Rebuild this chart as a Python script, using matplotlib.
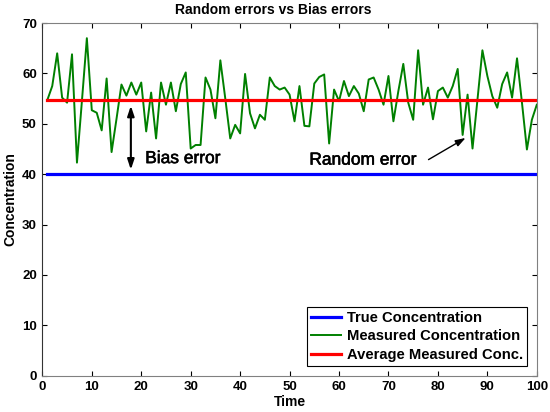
import matplotlib
matplotlib.use("Agg")
import matplotlib.pyplot as plt
import matplotlib.patheffects as pe
import numpy as np

plt.rcParams['font.family'] = ['Liberation Sans', 'DejaVu Sans']

time = list(range(1, 101))
measured = [54.7, 57.5, 64.0, 55.2, 54.2, 63.8, 42.3, 54.5, 67.0, 52.7,
            52.2, 48.7, 59.0, 44.4, 51.0, 57.8, 55.6, 58.2, 55.8, 58.2,
            48.5, 56.2, 47.1, 58.2, 53.8, 58.2, 52.5, 57.9, 60.2, 45.1,
            45.8, 45.8, 59.2, 56.8, 51.1, 62.6, 55.0, 47.1, 49.8, 48.1,
            59.9, 52.1, 49.1, 51.8, 50.8, 59.2, 57.5, 56.8, 57.2, 55.8,
            50.5, 57.5, 49.6, 49.5, 58.0, 59.3, 59.8, 46.1, 56.8, 54.5,
            58.5, 55.5, 57.5, 56.0, 52.5, 58.8, 59.2, 56.8, 53.8, 59.5,
            50.5, 56.5, 61.9, 54.2, 50.8, 64.6, 53.8, 57.2, 50.9, 56.5,
            57.2, 55.2, 57.5, 60.9, 47.8, 55.8, 45.1, 54.8, 64.6, 59.5,
            55.5, 53.2, 57.9, 60.2, 55.2, 63.0, 54.2, 44.9, 50.8, 53.8]
true_conc = 40.0
avg_conc = 54.7

x_ticks = list(range(0, 101, 10))
y_ticks = list(range(0, 71, 10))

fig = plt.figure(figsize=(5.5, 4.12), dpi=100)
ax = fig.add_axes([0.077, 0.088, 0.899, 0.856])

ax.plot(time, [true_conc] * len(time), color='#0000ff', lw=2.3, label='True Concentration')
ax.plot(time, measured, color='#008000', lw=1.4, label='Measured Concentration')
ax.plot(time, [avg_conc] * len(time), color='#ff0000', lw=2.3, label='Average Measured Conc.')

ax.set_xlim(0, 100)
ax.set_ylim(0, 70)
ax.set_xticks(x_ticks)
ax.set_yticks(y_ticks)
ax.tick_params(direction='in', length=3.5, width=0.8, top=True, right=True,
               labelsize=9.5, pad=4, colors='#000000')
for lab in ax.get_xticklabels() + ax.get_yticklabels():
    lab.set_fontweight('bold')
ax.spines['left'].set_color('#333333')
for s in ['top', 'right', 'bottom']:
    ax.spines[s].set_color('#808080')

ax.set_xlabel('Time', fontsize=10, fontweight='bold', labelpad=1)
ax.set_ylabel('Concentration', fontsize=10, fontweight='bold', labelpad=3)
fig.text(0.497, 0.975, 'Random errors vs Bias errors', ha='center', va='center',
         fontsize=10, fontweight='bold')

heavy = [pe.withStroke(linewidth=0.4, foreground='black')]
ax.annotate('', xy=(17.9, 40.9), xytext=(17.9, 53.6),
            arrowprops=dict(arrowstyle='<|-|>,head_length=0.6,head_width=0.2',
                            color='black', lw=1.5, shrinkA=0, shrinkB=0))
ax.text(20.8, 43.1, 'Bias error', fontsize=12.5, va='center', ha='left', path_effects=heavy)
ax.text(54.0, 42.8, 'Random error', fontsize=12.5, va='center', ha='left', path_effects=heavy)
ax.annotate('', xy=(85.6, 47.2), xytext=(78.1, 42.9),
            arrowprops=dict(arrowstyle='-|>,head_length=0.6,head_width=0.2',
                            color='black', lw=1.0, shrinkA=0, shrinkB=0))

leg = ax.legend(loc='lower right', prop={'weight': 'bold', 'size': 10.6},
                frameon=True, fancybox=False, edgecolor='black', framealpha=1,
                handlelength=2.0, borderaxespad=0.65, labelspacing=0.3,
                borderpad=0.3, handletextpad=0.4)
leg.get_frame().set_linewidth(0.8)

fig.savefig('out.png', dpi=100)
